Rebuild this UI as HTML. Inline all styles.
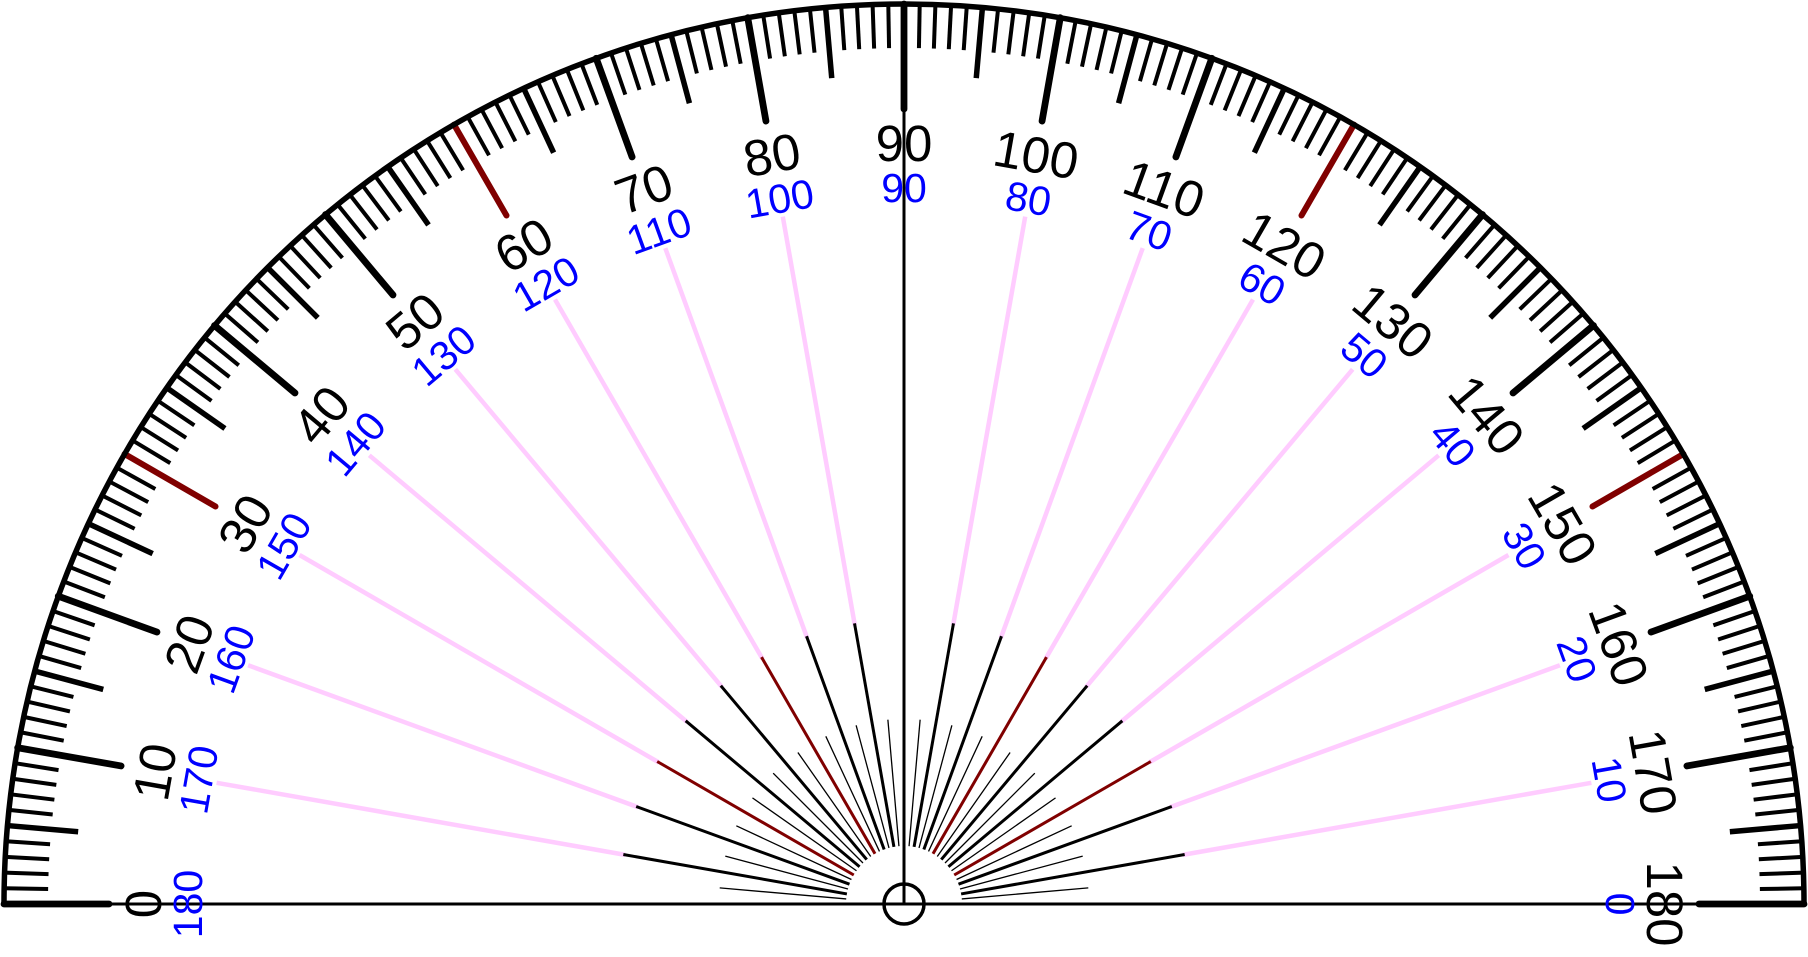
<!DOCTYPE html>
<html><head><meta charset="utf-8"><style>
html,body{margin:0;padding:0;background:#fff;}
svg{display:block;}
text{font-family:"Liberation Sans",Arial,sans-serif;text-anchor:middle;}
.k{font-size:51px;fill:#000;}
.b{font-size:41px;fill:#0000ff;}
</style></head><body>
<svg width="1808" height="957" viewBox="0 0 1808 957" xmlns="http://www.w3.org/2000/svg">
<rect width="1808" height="957" fill="#fff"/>
<defs>
<path id="n" d="M-900 0H-856" stroke="#000" stroke-width="4"/>
<path id="f" d="M-900 0H-829" stroke="#000" stroke-width="5.5"/>
<path id="M" d="M-900 0H-795" stroke="#000" stroke-width="6.8" stroke-linecap="round"/>
<path id="R" d="M-900 0H-795" stroke="#800000" stroke-width="6" stroke-linecap="round"/>
<path id="p" d="M-698 0H-283" stroke="#ffccff" stroke-width="4.5"/>
<path id="i" d="M-285 0H-58" stroke="#000" stroke-width="3"/>
<path id="r" d="M-285 0H-58" stroke="#800000" stroke-width="3"/>
<path id="t" d="M-185 0H-58" stroke="#000" stroke-width="1.3"/>
</defs>
<g transform="translate(904 904)" fill="none">
<use href="#p" transform="rotate(10)"/><use href="#p" transform="rotate(20)"/><use href="#p" transform="rotate(30)"/><use href="#p" transform="rotate(40)"/><use href="#p" transform="rotate(50)"/><use href="#p" transform="rotate(60)"/><use href="#p" transform="rotate(70)"/><use href="#p" transform="rotate(80)"/>
<use href="#p" transform="rotate(100)"/><use href="#p" transform="rotate(110)"/><use href="#p" transform="rotate(120)"/><use href="#p" transform="rotate(130)"/><use href="#p" transform="rotate(140)"/><use href="#p" transform="rotate(150)"/><use href="#p" transform="rotate(160)"/><use href="#p" transform="rotate(170)"/>
<use href="#i" transform="rotate(10)"/><use href="#i" transform="rotate(20)"/><use href="#r" transform="rotate(30)"/><use href="#i" transform="rotate(40)"/><use href="#i" transform="rotate(50)"/><use href="#r" transform="rotate(60)"/><use href="#i" transform="rotate(70)"/><use href="#i" transform="rotate(80)"/>
<use href="#i" transform="rotate(100)"/><use href="#i" transform="rotate(110)"/><use href="#r" transform="rotate(120)"/><use href="#i" transform="rotate(130)"/><use href="#i" transform="rotate(140)"/><use href="#r" transform="rotate(150)"/><use href="#i" transform="rotate(160)"/><use href="#i" transform="rotate(170)"/>
<use href="#t" transform="rotate(5)"/><use href="#t" transform="rotate(15)"/><use href="#t" transform="rotate(25)"/><use href="#t" transform="rotate(35)"/><use href="#t" transform="rotate(45)"/><use href="#t" transform="rotate(55)"/><use href="#t" transform="rotate(65)"/><use href="#t" transform="rotate(75)"/><use href="#t" transform="rotate(85)"/>
<use href="#t" transform="rotate(95)"/><use href="#t" transform="rotate(105)"/><use href="#t" transform="rotate(115)"/><use href="#t" transform="rotate(125)"/><use href="#t" transform="rotate(135)"/><use href="#t" transform="rotate(145)"/><use href="#t" transform="rotate(155)"/><use href="#t" transform="rotate(165)"/><use href="#t" transform="rotate(175)"/>
<path d="M-900 0H900" stroke="#000" stroke-width="3"/>
<path d="M0 0V-900" stroke="#000" stroke-width="3"/>
<circle cx="0" cy="0" r="20" stroke="#000" stroke-width="3.5"/>
<use href="#n" transform="rotate(1)"/><use href="#n" transform="rotate(2)"/><use href="#n" transform="rotate(3)"/><use href="#n" transform="rotate(4)"/><use href="#n" transform="rotate(6)"/><use href="#n" transform="rotate(7)"/><use href="#n" transform="rotate(8)"/><use href="#n" transform="rotate(9)"/>
<use href="#n" transform="rotate(11)"/><use href="#n" transform="rotate(12)"/><use href="#n" transform="rotate(13)"/><use href="#n" transform="rotate(14)"/><use href="#n" transform="rotate(16)"/><use href="#n" transform="rotate(17)"/><use href="#n" transform="rotate(18)"/><use href="#n" transform="rotate(19)"/>
<use href="#n" transform="rotate(21)"/><use href="#n" transform="rotate(22)"/><use href="#n" transform="rotate(23)"/><use href="#n" transform="rotate(24)"/><use href="#n" transform="rotate(26)"/><use href="#n" transform="rotate(27)"/><use href="#n" transform="rotate(28)"/><use href="#n" transform="rotate(29)"/>
<use href="#n" transform="rotate(31)"/><use href="#n" transform="rotate(32)"/><use href="#n" transform="rotate(33)"/><use href="#n" transform="rotate(34)"/><use href="#n" transform="rotate(36)"/><use href="#n" transform="rotate(37)"/><use href="#n" transform="rotate(38)"/><use href="#n" transform="rotate(39)"/>
<use href="#n" transform="rotate(41)"/><use href="#n" transform="rotate(42)"/><use href="#n" transform="rotate(43)"/><use href="#n" transform="rotate(44)"/><use href="#n" transform="rotate(46)"/><use href="#n" transform="rotate(47)"/><use href="#n" transform="rotate(48)"/><use href="#n" transform="rotate(49)"/>
<use href="#n" transform="rotate(51)"/><use href="#n" transform="rotate(52)"/><use href="#n" transform="rotate(53)"/><use href="#n" transform="rotate(54)"/><use href="#n" transform="rotate(56)"/><use href="#n" transform="rotate(57)"/><use href="#n" transform="rotate(58)"/><use href="#n" transform="rotate(59)"/>
<use href="#n" transform="rotate(61)"/><use href="#n" transform="rotate(62)"/><use href="#n" transform="rotate(63)"/><use href="#n" transform="rotate(64)"/><use href="#n" transform="rotate(66)"/><use href="#n" transform="rotate(67)"/><use href="#n" transform="rotate(68)"/><use href="#n" transform="rotate(69)"/>
<use href="#n" transform="rotate(71)"/><use href="#n" transform="rotate(72)"/><use href="#n" transform="rotate(73)"/><use href="#n" transform="rotate(74)"/><use href="#n" transform="rotate(76)"/><use href="#n" transform="rotate(77)"/><use href="#n" transform="rotate(78)"/><use href="#n" transform="rotate(79)"/>
<use href="#n" transform="rotate(81)"/><use href="#n" transform="rotate(82)"/><use href="#n" transform="rotate(83)"/><use href="#n" transform="rotate(84)"/><use href="#n" transform="rotate(86)"/><use href="#n" transform="rotate(87)"/><use href="#n" transform="rotate(88)"/><use href="#n" transform="rotate(89)"/>
<use href="#n" transform="rotate(91)"/><use href="#n" transform="rotate(92)"/><use href="#n" transform="rotate(93)"/><use href="#n" transform="rotate(94)"/><use href="#n" transform="rotate(96)"/><use href="#n" transform="rotate(97)"/><use href="#n" transform="rotate(98)"/><use href="#n" transform="rotate(99)"/>
<use href="#n" transform="rotate(101)"/><use href="#n" transform="rotate(102)"/><use href="#n" transform="rotate(103)"/><use href="#n" transform="rotate(104)"/><use href="#n" transform="rotate(106)"/><use href="#n" transform="rotate(107)"/><use href="#n" transform="rotate(108)"/><use href="#n" transform="rotate(109)"/>
<use href="#n" transform="rotate(111)"/><use href="#n" transform="rotate(112)"/><use href="#n" transform="rotate(113)"/><use href="#n" transform="rotate(114)"/><use href="#n" transform="rotate(116)"/><use href="#n" transform="rotate(117)"/><use href="#n" transform="rotate(118)"/><use href="#n" transform="rotate(119)"/>
<use href="#n" transform="rotate(121)"/><use href="#n" transform="rotate(122)"/><use href="#n" transform="rotate(123)"/><use href="#n" transform="rotate(124)"/><use href="#n" transform="rotate(126)"/><use href="#n" transform="rotate(127)"/><use href="#n" transform="rotate(128)"/><use href="#n" transform="rotate(129)"/>
<use href="#n" transform="rotate(131)"/><use href="#n" transform="rotate(132)"/><use href="#n" transform="rotate(133)"/><use href="#n" transform="rotate(134)"/><use href="#n" transform="rotate(136)"/><use href="#n" transform="rotate(137)"/><use href="#n" transform="rotate(138)"/><use href="#n" transform="rotate(139)"/>
<use href="#n" transform="rotate(141)"/><use href="#n" transform="rotate(142)"/><use href="#n" transform="rotate(143)"/><use href="#n" transform="rotate(144)"/><use href="#n" transform="rotate(146)"/><use href="#n" transform="rotate(147)"/><use href="#n" transform="rotate(148)"/><use href="#n" transform="rotate(149)"/>
<use href="#n" transform="rotate(151)"/><use href="#n" transform="rotate(152)"/><use href="#n" transform="rotate(153)"/><use href="#n" transform="rotate(154)"/><use href="#n" transform="rotate(156)"/><use href="#n" transform="rotate(157)"/><use href="#n" transform="rotate(158)"/><use href="#n" transform="rotate(159)"/>
<use href="#n" transform="rotate(161)"/><use href="#n" transform="rotate(162)"/><use href="#n" transform="rotate(163)"/><use href="#n" transform="rotate(164)"/><use href="#n" transform="rotate(166)"/><use href="#n" transform="rotate(167)"/><use href="#n" transform="rotate(168)"/><use href="#n" transform="rotate(169)"/>
<use href="#n" transform="rotate(171)"/><use href="#n" transform="rotate(172)"/><use href="#n" transform="rotate(173)"/><use href="#n" transform="rotate(174)"/><use href="#n" transform="rotate(176)"/><use href="#n" transform="rotate(177)"/><use href="#n" transform="rotate(178)"/><use href="#n" transform="rotate(179)"/>
<use href="#f" transform="rotate(5)"/><use href="#f" transform="rotate(15)"/><use href="#f" transform="rotate(25)"/><use href="#f" transform="rotate(35)"/><use href="#f" transform="rotate(45)"/><use href="#f" transform="rotate(55)"/><use href="#f" transform="rotate(65)"/><use href="#f" transform="rotate(75)"/><use href="#f" transform="rotate(85)"/>
<use href="#f" transform="rotate(95)"/><use href="#f" transform="rotate(105)"/><use href="#f" transform="rotate(115)"/><use href="#f" transform="rotate(125)"/><use href="#f" transform="rotate(135)"/><use href="#f" transform="rotate(145)"/><use href="#f" transform="rotate(155)"/><use href="#f" transform="rotate(165)"/><use href="#f" transform="rotate(175)"/>
<use href="#M" transform="rotate(0)"/><use href="#M" transform="rotate(10)"/><use href="#M" transform="rotate(20)"/><use href="#R" transform="rotate(30)"/><use href="#M" transform="rotate(40)"/><use href="#M" transform="rotate(50)"/><use href="#R" transform="rotate(60)"/><use href="#M" transform="rotate(70)"/><use href="#M" transform="rotate(80)"/><use href="#M" transform="rotate(90)"/>
<use href="#M" transform="rotate(100)"/><use href="#M" transform="rotate(110)"/><use href="#R" transform="rotate(120)"/><use href="#M" transform="rotate(130)"/><use href="#M" transform="rotate(140)"/><use href="#R" transform="rotate(150)"/><use href="#M" transform="rotate(160)"/><use href="#M" transform="rotate(170)"/><use href="#M" transform="rotate(180)"/>
<path d="M-900 0A900 900 0 0 1 900 0" stroke="#000" stroke-width="5.5"/>
<text class="k" x="0" y="-743" transform="rotate(-90)">0</text>
<text class="k" x="0" y="-743" transform="rotate(-80)">10</text>
<text class="k" x="0" y="-743" transform="rotate(-70)">20</text>
<text class="k" x="0" y="-743" transform="rotate(-60)">30</text>
<text class="k" x="0" y="-743" transform="rotate(-50)">40</text>
<text class="k" x="0" y="-743" transform="rotate(-40)">50</text>
<text class="k" x="0" y="-743" transform="rotate(-30)">60</text>
<text class="k" x="0" y="-743" transform="rotate(-20)">70</text>
<text class="k" x="0" y="-743" transform="rotate(-10)">80</text>
<text class="k" x="0" y="-743" transform="rotate(0)">90</text>
<text class="k" x="0" y="-743" transform="rotate(10)">100</text>
<text class="k" x="0" y="-743" transform="rotate(20)">110</text>
<text class="k" x="0" y="-743" transform="rotate(30)">120</text>
<text class="k" x="0" y="-743" transform="rotate(40)">130</text>
<text class="k" x="0" y="-743" transform="rotate(50)">140</text>
<text class="k" x="0" y="-743" transform="rotate(60)">150</text>
<text class="k" x="0" y="-743" transform="rotate(70)">160</text>
<text class="k" x="0" y="-743" transform="rotate(80)">170</text>
<text class="k" x="0" y="-743" transform="rotate(90)">180</text>
<text class="b" x="0" y="-702" transform="rotate(-90)">180</text>
<text class="b" x="0" y="-702" transform="rotate(-80)">170</text>
<text class="b" x="0" y="-702" transform="rotate(-70)">160</text>
<text class="b" x="0" y="-702" transform="rotate(-60)">150</text>
<text class="b" x="0" y="-702" transform="rotate(-50)">140</text>
<text class="b" x="0" y="-702" transform="rotate(-40)">130</text>
<text class="b" x="0" y="-702" transform="rotate(-30)">120</text>
<text class="b" x="0" y="-702" transform="rotate(-20)">110</text>
<text class="b" x="0" y="-702" transform="rotate(-10)">100</text>
<text class="b" x="0" y="-702" transform="rotate(0)">90</text>
<text class="b" x="0" y="-702" transform="rotate(10)">80</text>
<text class="b" x="0" y="-702" transform="rotate(20)">70</text>
<text class="b" x="0" y="-702" transform="rotate(30)">60</text>
<text class="b" x="0" y="-702" transform="rotate(40)">50</text>
<text class="b" x="0" y="-702" transform="rotate(50)">40</text>
<text class="b" x="0" y="-702" transform="rotate(60)">30</text>
<text class="b" x="0" y="-702" transform="rotate(70)">20</text>
<text class="b" x="0" y="-702" transform="rotate(80)">10</text>
<text class="b" x="0" y="-702" transform="rotate(90)">0</text>
</g>
</svg>
</body></html>
